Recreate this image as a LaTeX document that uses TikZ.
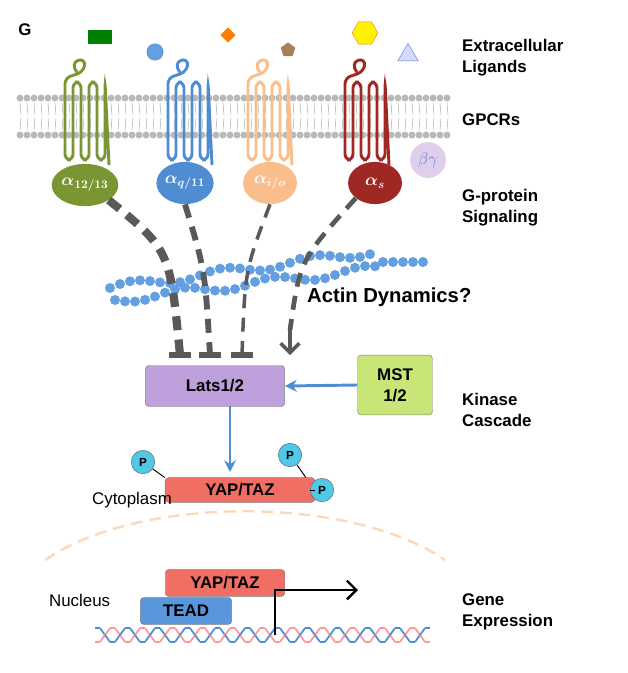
\documentclass[tikz,border=0pt]{standalone}
\usepackage{fontspec}
\setmainfont{Liberation Sans}
\usetikzlibrary{shapes.geometric,arrows.meta,positioning}
\definecolor{gpgreen}{RGB}{122,150,50}
\definecolor{gpblue}{RGB}{80,140,210}
\definecolor{gppeach}{RGB}{250,190,140}
\definecolor{gpred}{RGB}{160,40,35}
\definecolor{bead}{RGB}{100,160,225}
\definecolor{latsc}{RGB}{190,160,220}
\definecolor{mstc}{RGB}{200,230,120}
\definecolor{yapc}{RGB}{240,110,100}
\definecolor{teadc}{RGB}{90,150,220}
\definecolor{pc}{RGB}{80,200,230}
\tikzset{
  side/.style={font=\bfseries\Large,align=left,anchor=west},
  alpha/.style={ellipse,minimum width=46,minimum height=36,inner sep=0,text=white,font=\boldmath\Large},
  box/.style={rounded corners=3,draw=gray,minimum height=#1,font=\bfseries\Large},
  phos/.style={circle,draw=black!60,fill=pc,minimum size=20,inner sep=0,font=\bfseries},
  gdash/.style={line width=5,gray!70!black,dash pattern=on 12 off 8},
}
\begin{document}
\begin{tikzpicture}[x=0.03cm,y=-0.03cm]
\useasboundingbox (0,0) rectangle (628,673);
\node[font=\bfseries\Large] (g) at (25,30) {G};
% ligands
\node[fill=green!50!black,minimum width=20,minimum height=12,inner sep=0] (l1) at (100,37) {};
\node[circle,fill=bead,draw=gpblue,minimum size=14,inner sep=0] (l2) at (155,52) {};
\node[diamond,fill=orange,minimum size=13,inner sep=0] (l3) at (228,35) {};
\node[regular polygon,regular polygon sides=5,fill=gray!70!orange,minimum size=13,inner sep=0] (l4) at (288,50) {};
\node[regular polygon,regular polygon sides=6,fill=yellow,draw=orange,minimum size=22,inner sep=0] (l5) at (365,33) {};
\node[regular polygon,regular polygon sides=3,fill=blue!15,draw=gpblue,minimum size=20,inner sep=0] (l6) at (408,55) {};
% membrane
\foreach \x in {20,27,...,450} {
  \draw[gray!70] (\x,103) -- (\x+1,115) (\x,130) -- (\x+1,118);
  \fill[gray!55] (\x,98) circle (3.5) (\x,135) circle (3.5);
}
% receptors
\foreach \cx/\col in {85/gpgreen,188/gpblue,268/gppeach,365/gpred} {
  \draw[\col,line width=2.5,rounded corners=5]
    (\cx-8,72) .. controls (\cx-18,60) and (\cx+2,55) .. (\cx-2,72)
    -- (\cx-20,78) -- (\cx-20,160) -- (\cx-12,160) -- (\cx-12,82) -- (\cx-4,82) -- (\cx-4,160)
    -- (\cx+4,160) -- (\cx+4,82) -- (\cx+12,82) -- (\cx+12,160) -- (\cx+20,160) -- (\cx+20,82)
    -- (\cx+24,165);
}
% alpha subunits
\node[alpha,fill=gpgreen] (a1) at (85,185) {$\alpha_{12/13}$};
\node[alpha,fill=gpblue] (a2) at (185,183) {$\alpha_{q/11}$};
\node[alpha,fill=gppeach] (a3) at (270,183) {$\alpha_{i/o}$};
\node[alpha,fill=gpred] (a4) at (375,183) {$\alpha_{s}$};
\node[circle,fill=latsc!50,minimum size=28,text=gpblue,font=\Large] (bg) at (428,160) {$\beta\gamma$};
% actin
\foreach \i in {0,...,26} {
  \fill[bead] ({115+\i*10},{300-\i*1.2+4*sin(\i*40)}) circle (5);
  \fill[bead] ({110+\i*10},{288-\i*1.4-4*sin(\i*40)}) circle (5);
}
\foreach \i in {0,...,4} \fill[bead] ({383+\i*10},{262}) circle (5);
% kinase cascade
\node[box=35,fill=latsc,minimum width=119] (lats) at (215,386) {Lats1/2};
\node[box=51,fill=mstc,minimum width=64,align=center] (mst) at (395,385) {MST\\1/2};
\coordinate (t1) at (180,355);
\coordinate (t2) at (210,355);
\coordinate (t3) at (242,355);
\coordinate (t4) at (290,355);
\coordinate (t4a) at (290,330);
\draw[gdash,line width=7] (a1.south east) .. controls (170,250) .. (t1);
\draw[gdash] (a2.south) .. controls (205,270) .. (t2);
\draw[gdash,line width=3] (a3.south) .. controls (245,270) .. (t3);
\draw[gdash,line width=4] (a4.south west) .. controls (300,260) .. (t4a);
\foreach \t in {t1,t2,t3} \draw[gray!70!black,line width=5] ([xshift=-9]\t) -- ([xshift=9]\t);
\draw[gray!70!black,line width=3,-{Straight Barb[length=8pt,width=16pt]}] (t4a) -- (t4);
\draw[-{Stealth[length=10pt,width=10pt]},gpblue,line width=2.5] (mst.west) -- (lats.east);
\node[box=21,fill=yapc,minimum width=128] (yap) at (240,490) {YAP/TAZ};
\coordinate (la) at (230,406);
\coordinate (lb) at (230,472);
\draw[-{Stealth[length=10pt,width=10pt]},gpblue,line width=2.5] (la) -- (lb);
\node[phos] (p1) at (143,462) {P};
\node[phos] (p2) at (290,455) {P};
\node[phos] (p3) at (322,490) {P};
\draw[thick] (p1) -- (yap.north west);
\draw[thick] (p2) -- ([xshift=-8]yap.north east);
\draw[thick] (p3) -- (yap.east);
\node[font=\Large,anchor=west] (cyto) at (88,500) {Cytoplasm};
% nucleus
\draw[gppeach!60,line width=2,dash pattern=on 10 off 6] (45,560) .. controls (140,495) and (350,495) .. (445,560);
\node[font=\Large,anchor=west] (nuc) at (45,600) {Nucleus};
\foreach \x in {95,100,...,425} {
  \draw[pink!80!red,line width=1.5] (\x,{635+8*sin(\x*12)}) -- (\x+5,{635+8*sin((\x+5)*12)});
  \draw[gpblue,line width=1.5] (\x,{635-8*sin(\x*12)}) -- (\x+5,{635-8*sin((\x+5)*12)});
}
\node[box=23,fill=yapc,minimum width=102] (yap2) at (225,583) {YAP/TAZ};
\node[box=23,fill=teadc,minimum width=78] (tead) at (186,611) {TEAD};
\coordinate (tss) at (275,635);
\coordinate (tend) at (358,590);
\draw[line width=2,-{Straight Barb[length=8pt]}] (tss) -- (tss |- tend) -- (tend);
% right labels
\node[side] (lig) at (458,58) {Extracellular\\Ligands};
\node[side] (gpcr) at (458,120) {GPCRs};
\node[side] (gps) at (458,208) {G-protein\\Signaling};
\node[side,font=\bfseries\LARGE] (act) at (303,297) {Actin Dynamics?};
\node[side] (kin) at (458,410) {Kinase\\Cascade};
\node[side] (gene) at (458,612) {Gene\\Expression};
\end{tikzpicture}
\end{document}
